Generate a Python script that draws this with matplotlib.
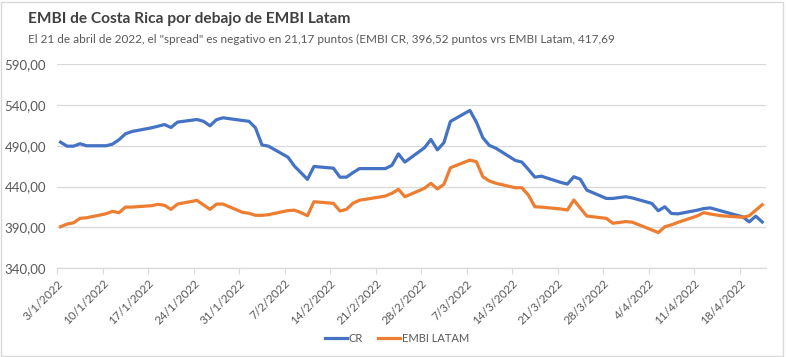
import numpy as np
import pandas as pd
import matplotlib.pyplot as plt
from matplotlib.patches import Rectangle

plt.rcParams["font.family"] = ["Lato", "DejaVu Sans"]

# business days 3/1/2022 .. 21/4/2022
dates = pd.bdate_range("2022-01-03", "2022-04-21")

cr = [
    494.4, 489.5, 489.5, 492.5, 490.0,
    490.0, 492.0, 497.4, 504.7, 507.5,
    512.0, 514.0, 516.0, 512.4, 519.0,
    522.2, 520.0, 514.5, 522.0, 524.3,
    521.0, 520.0, 512.0, 491.0, 489.5,
    476.0, 465.0, 457.0, 448.8, 464.6,
    462.5, 451.5, 451.5, 457.0, 462.0,
    462.0, 462.0, 466.0, 480.0, 470.0,
    487.5, 497.7, 485.0, 493.7, 519.8,
    533.3, 519.0, 499.8, 490.4, 487.0,
    472.0, 470.0, 461.0, 451.5, 452.7,
    445.0, 443.0, 452.0, 449.0, 435.6,
    425.4, 425.4, 426.5, 427.5, 426.0,
    419.3, 410.3, 415.2, 407.0, 406.5,
    411.0, 413.0, 413.8, 411.6, 409.4,
    402.8, 396.7, 403.7, 396.52,
]

latam = [
    390.7, 394.0, 395.6, 401.0, 401.7,
    406.6, 409.6, 407.9, 414.8, 414.8,
    416.5, 418.2, 417.0, 412.0, 418.5,
    423.0, 417.5, 412.0, 418.5, 418.5,
    408.4, 407.2, 404.7, 404.7, 405.5,
    410.5, 411.0, 408.0, 404.3, 421.4,
    419.4, 410.0, 412.0, 419.5, 423.2,
    427.0, 428.4, 431.7, 436.6, 427.5,
    437.8, 444.0, 437.0, 442.7, 463.0,
    472.5, 470.4, 452.0, 446.8, 444.0,
    438.5, 438.5, 429.6, 415.2, 414.8,
    412.5, 411.2, 423.5, 413.5, 403.8,
    401.0, 395.0, 396.0, 397.0, 396.3,
    386.8, 383.5, 390.7, 393.0, 396.0,
    404.0, 408.0, 406.3, 405.0, 404.0,
    402.3, 404.2, 411.0, 417.69,
]

tick_dates = pd.date_range("2022-01-03", "2022-04-18", freq="7D")
tick_labels = [f"{d.day}/{d.month}/{d.year}" for d in tick_dates]

start = dates[0]
# excel date axis: points sit in the middle of each day slot
x = (dates - start).days + 0.5
tick_x = (tick_dates - start).days

fig = plt.figure(figsize=(7.86, 3.57), dpi=100)
ax = fig.add_axes([57.3 / 786, 1 - 268.1 / 357, (765.5 - 57.3) / 786, 203.9 / 357])

ax.plot(x, cr, color="#4472C4", lw=2.3, label="CR", solid_joinstyle="round")
ax.plot(x, latam, color="#ED7D31", lw=2.3, label="EMBI LATAM", solid_joinstyle="round")

ax.set_ylim(340, 590)
ax.set_yticks(np.arange(340, 591, 50))
ax.set_yticklabels([f"{v:.2f}".replace(".", ",") for v in np.arange(340, 591, 50)])
ax.set_xlim(0, 109)
ax.set_xticks(tick_x)
ax.set_xticklabels(tick_labels, rotation=45, ha="right", rotation_mode="anchor")

ax.grid(axis="y", color="#D9D9D9", lw=0.9)
ax.set_axisbelow(True)
for s in ["top", "right", "left"]:
    ax.spines[s].set_visible(False)
ax.spines["bottom"].set_color("#D9D9D9")
ax.spines["bottom"].set_linewidth(0.9)
ax.tick_params(axis="y", length=0, labelsize=9.5, labelcolor="#595959", pad=8)
ax.tick_params(axis="x", length=4, color="#D9D9D9", labelsize=8.5, labelcolor="#595959", pad=3)

fig.text(28 / 786, 1 - 19 / 357, "EMBI de Costa Rica por debajo de EMBI Latam",
         fontsize=11.2, fontweight="bold", color="#404040", va="center", ha="left")
fig.text(28 / 786, 1 - 39 / 357,
         'El 21 de abril de 2022, el "spread" es negativo en 21,17 puntos '
         "(EMBI CR, 396,52 puntos vrs EMBI Latam, 417,69",
         fontsize=8.5, color="#595959", va="center", ha="left")

fig.legend(loc="center", bbox_to_anchor=(0.505, 1 - 338 / 357), ncol=2, frameon=False,
           fontsize=8, labelcolor="#595959", handlelength=2.0, handletextpad=0.15,
           columnspacing=1.3)

fig.patches.append(Rectangle((1 / 786, 1 / 357), 782 / 786, 354 / 357, transform=fig.transFigure,
                             fill=False, edgecolor="#D9D9D9", lw=1))

fig.savefig("out.png", dpi=100)
